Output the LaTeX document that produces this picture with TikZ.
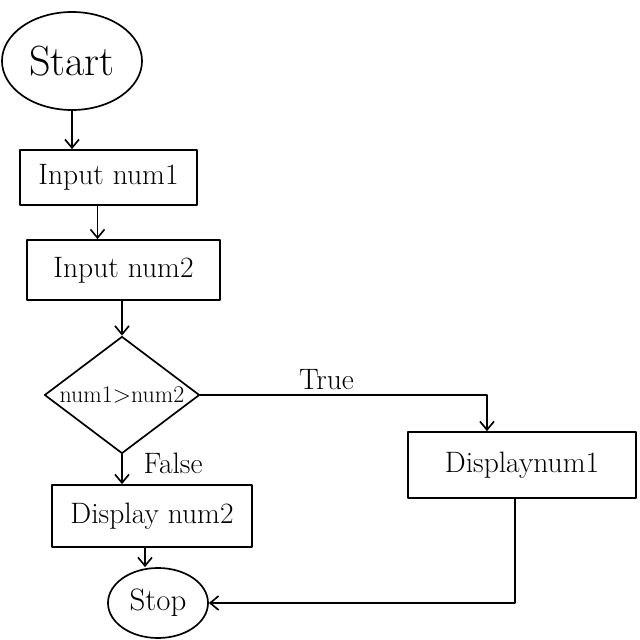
\documentclass[tikz,border=0pt]{standalone}
\usepackage{fontspec}
\usepackage{pgf,tikz}
\usetikzlibrary{arrows,arrows.meta}
\usetikzlibrary{positioning}
\usetikzlibrary{shapes.geometric}

\begin{document}
\begin{tikzpicture}[line cap=round,line join=round,>={Straight Barb[length=6pt,width=10pt]},x=0.025cm,y=0.025cm,
  flowline/.style={line width=1.2pt},
  endbox/.style={draw,line width=1.2pt,ellipse,inner sep=0pt},
  iobox/.style={draw,line width=1.2pt,rectangle,inner sep=0pt,font=\fontsize{21}{25}\selectfont},
  testbox/.style={draw,line width=1.2pt,diamond,aspect=1.3,inner sep=0pt,font=\fontsize{17}{20}\selectfont}]
\useasboundingbox (0,0) rectangle (640,640);
\node[endbox,minimum width=3.5cm,minimum height=2.45cm,font=\fontsize{30}{36}\selectfont] (start) at (72,579) {Start};
\node[iobox,minimum width=4.425cm,minimum height=1.375cm] (in1) at (108.5,462.5) {Input num1};
\node[iobox,minimum width=4.825cm,minimum height=1.5cm] (in2) at (123.5,370) {Input num2};
\node[testbox,minimum width=3.875cm,minimum height=2.925cm] (cond) at (122,245) {num1>num2};
\node[iobox,minimum width=5.7cm,minimum height=1.65cm] (disp1) at (522,175) {Displaynum1};
\node[iobox,minimum width=5cm,minimum height=1.55cm] (disp2) at (152,124) {Display num2};
\node[endbox,minimum width=2.5cm,minimum height=1.75cm,font=\fontsize{22}{26}\selectfont] (stop) at (158,37) {Stop};
\draw [flowline,->] (start.south) -- (start.south |- in1.north);
\draw [flowline,->] ([xshift=-0.275cm]in1.south) -- ([xshift=-0.275cm]in1.south |- in2.north);
\draw [flowline,->] (in2.south -| cond.north) -- (cond.north);
\draw [flowline,->] (cond.east) -| node[pos=0.22,above,font=\fontsize{21}{25}\selectfont] {True} ([xshift=-0.875cm]disp1.north);
\draw [flowline,->] (cond.south) -- node[pos=0.3,right=0.4cm,font=\fontsize{21}{25}\selectfont] {False} (cond.south |- disp2.north);
\draw [flowline,->] ([xshift=-0.175cm]disp2.south) -- ([xshift=-0.175cm]disp2.south |- stop.north);
\draw [flowline,->] ([xshift=-0.175cm]disp1.south) |- (stop.east);
\end{tikzpicture}
\end{document}
